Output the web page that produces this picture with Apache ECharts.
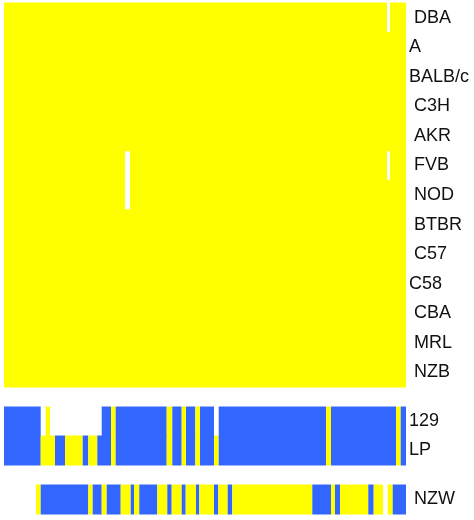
<!DOCTYPE html>
<html>
<head>
<meta charset="utf-8">
<script src="https://cdn.jsdelivr.net/npm/echarts@6/dist/echarts.min.js"></script>
<style>html,body{margin:0;padding:0;background:#fff}#chart{width:474px;height:520px}</style>
</head>
<body>
<div id="chart"></div>
<script>
// segments: [start, end, state]  state 1 = yellow, 2 = blue, gaps are white
var topStrains = [' DBA', 'A', 'BALB/c', ' C3H', ' AKR', ' FVB', ' NOD', ' BTBR', ' C57', 'C58', ' CBA', ' MRL', ' NZB'];
var topRows = [
    [[0, 383, 1], [386, 402, 1]],
    [[0, 402, 1]],
    [[0, 402, 1]],
    [[0, 402, 1]],
    [[0, 402, 1]],
    [[0, 121, 1], [126, 383, 1], [386, 402, 1]],
    [[0, 121, 1], [126, 402, 1]],
    [[0, 402, 1]],
    [[0, 402, 1]],
    [[0, 402, 1]],
    [[0, 402, 1]],
    [[0, 402, 1]],
    [[0, 402, 1]]
];
var midStrains = ['129', 'LP'];
var row129 = [[0, 36.7, 2], [41.7, 46, 1], [97.7, 107, 2], [107, 111.7, 1], [111.7, 162.7, 2], [162.7, 168.3, 1],
    [168.3, 177.7, 2], [177.7, 182, 1], [182, 191.3, 2], [191.3, 196, 1], [196, 210, 2], [214.7, 322, 2],
    [322, 327, 1], [327, 392, 2], [392, 396.7, 1], [396.7, 402, 2]];
var rowLP = [[0, 36.7, 2], [36.7, 51, 1], [51, 61, 2], [61, 78.7, 1], [78.7, 84.3, 2], [84.3, 93.3, 1],
    [93.3, 107, 2], [107, 111.7, 1], [111.7, 162.7, 2], [162.7, 168.3, 1], [168.3, 177.7, 2], [177.7, 182, 1],
    [182, 191.3, 2], [191.3, 196, 1], [196, 210, 2], [210, 214.7, 1], [214.7, 322, 2], [322, 327, 1],
    [327, 392, 2], [392, 396.7, 1], [396.7, 402, 2]];
var lowStrains = [' NZW'];
var rowNZW = [[32, 36.7, 1], [36.7, 84.3, 2], [84.3, 88.7, 1], [88.7, 97.7, 2], [97.7, 102.7, 1], [102.7, 116.7, 2],
    [116.7, 126.7, 1], [126.7, 130, 2], [130, 135.3, 1], [135.3, 153.3, 2], [153.3, 163.3, 1], [163.3, 167.7, 2],
    [167.7, 177.7, 1], [177.7, 181.7, 2], [181.7, 192, 1], [192, 195.3, 2], [195.3, 210, 1], [210, 214.3, 2],
    [214.3, 223.7, 1], [223.7, 228.3, 2], [228.3, 308.3, 1], [308.3, 327, 2], [327, 331, 1], [331, 336, 2],
    [336, 364.3, 1], [364.3, 369.7, 2], [369.7, 379, 1], [383.7, 388.7, 1], [388.7, 402, 2]];

var colors = {1: '#ffff00', 2: '#3366ff'};

function toData(rows) {
    var out = [];
    rows.forEach(function (segs, r) {
        segs.forEach(function (s) { out.push([s[0], s[1], r, s[2]]); });
    });
    return out;
}

function renderItem(params, api) {
    var p0 = api.coord([api.value(0), api.value(2)]);
    var p1 = api.coord([api.value(1), api.value(2)]);
    var h = api.size([0, 1])[1];
    var c = colors[api.value(3)];
    return {
        type: 'rect',
        shape: {x: p0[0], y: p0[1] - h / 2 - 0.5, width: p1[0] - p0[0], height: h + 1},
        style: {fill: c}
    };
}

function yAx(i, names) {
    return {
        gridIndex: i, type: 'category', data: names, inverse: true, position: 'right',
        axisLine: {show: false}, axisTick: {show: false}, splitLine: {show: false},
        axisLabel: {margin: 3, color: '#111', fontSize: 18, fontFamily: 'Liberation Sans, Arial'}
    };
}
function xAx(i) {
    return {gridIndex: i, type: 'value', min: 0, max: 402, show: false};
}

var chart = echarts.init(document.getElementById('chart'));
chart.setOption({
    animation: false,
    grid: [
        {left: 4, top: 3, width: 402, height: 384},
        {left: 4, top: 407, width: 402, height: 58},
        {left: 4, top: 485, width: 402, height: 29}
    ],
    xAxis: [xAx(0), xAx(1), xAx(2)],
    yAxis: [yAx(0, topStrains), yAx(1, midStrains), yAx(2, lowStrains)],
    series: [
        {type: 'custom', xAxisIndex: 0, yAxisIndex: 0, renderItem: renderItem, data: toData(topRows)},
        {type: 'custom', xAxisIndex: 1, yAxisIndex: 1, renderItem: renderItem, data: toData([row129, rowLP])},
        {type: 'custom', xAxisIndex: 2, yAxisIndex: 2, renderItem: renderItem, data: toData([rowNZW])}
    ]
});
</script>
</body>
</html>
